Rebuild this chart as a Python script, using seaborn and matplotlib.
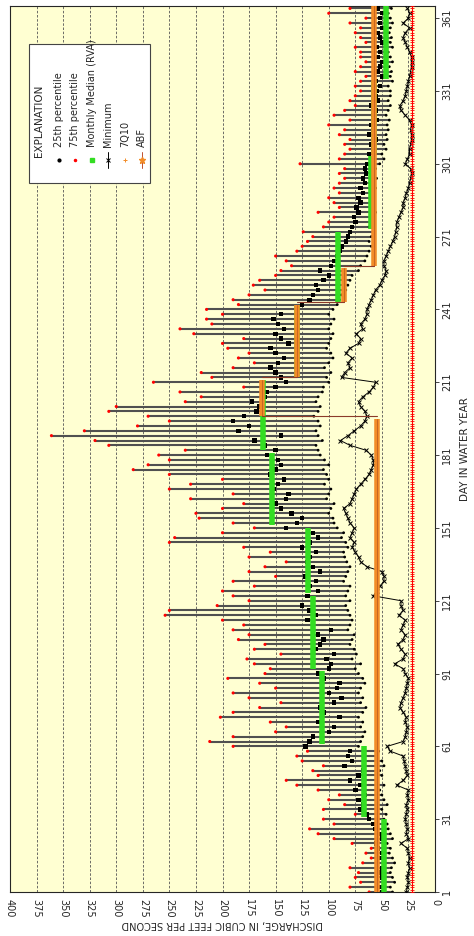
import numpy as np
import pandas as pd
import matplotlib
matplotlib.use("Agg")
import matplotlib.pyplot as plt
import seaborn as sns

sns.set_style("white")
plt.rcParams['font.family'] = ['Liberation Sans Narrow', 'DejaVu Sans']

days = list(range(1, 366, 2))
p75 = [62,80,70,75,72,80,68,60,65,60,78,95,110,118,95,105,75,105,85,100,90,110,130,140,110,115,105,125,130,120,
       190,212,190,150,140,155,202,190,165,145,175,190,150,165,195,160,155,170,177,145,170,160,185,175,190,180,200,254,
       250,205,175,190,200,170,190,150,175,160,140,175,155,180,250,245,200,170,190,222,225,200,180,230,190,250,230,200,250,284,
       270,250,260,235,307,320,361,330,280,250,270,307,300,235,220,240,180,265,210,220,190,170,185,175,195,200,180,227,240,210,
       215,200,215,185,
       190,175,160,171,165,150,145,135,140,150,130,125,120,115,124,105,100,95,110,90,95,100,90,95,90,85,90,85,127,90,
       85,80,85,80,90,85,100,80,95,85,75,80,75,70,75,70,65,75,70,65,70,70,75,65,70,75,70,80,65,100,80]
p25 = [40,42,38,40,42,41,38,40,43,42,45,40,42,44,45,
       48,46,50,45,48,50,52,48,55,50,52,48,50,55,53,
       72,70,68,66,70,68,72,68,65,70,68,72,70,66,68,
       72,75,70,78,74,76,80,78,76,82,80,78,80,82,84,
       80,84,82,80,86,84,82,80,83,85,86,82,84,88,86,
       92,95,96,100,98,95,102,100,98,104,100,102,105,100,104,
       108,110,112,106,110,112,108,110,114,110,108,112,110,106,105,
       100,102,98,104,100,96,98,102,100,98,96,100,98,95,100,
       96,92,90,88,84,82,80,78,72,70,66,64,62,60,62,
       60,58,62,60,58,56,58,60,57,58,56,58,55,57,56,
       52,48,50,46,48,45,46,44,45,43,46,44,42,44,42,
       42,44,40,42,41,43,40,42,44,40,42,41,43,42,40,
       42,44,41]
daily_med = [50,52,48,50,52,50,48,52,50,54,55,50,52,56,58,
             62,64,70,68,72,66,75,70,80,72,68,85,78,82,80,
             122,118,115,100,95,110,90,105,108,95,88,100,92,90,105,
             110,100,98,102,95,112,108,105,110,98,115,120,112,118,125,
             115,120,110,118,112,122,108,115,120,118,112,125,118,110,115,
             140,130,125,135,145,150,140,138,152,148,142,155,150,145,148,
             158,150,160,170,145,185,175,190,180,168,165,172,160,158,150,
             140,145,150,155,148,142,150,155,138,145,150,142,148,152,145,
             130,125,118,115,110,112,105,100,108,98,95,92,90,88,84,
             82,80,78,75,76,72,74,70,72,68,70,66,68,65,66,
             64,60,62,58,60,56,62,58,60,55,58,56,60,54,56,
             55,52,56,50,54,52,50,54,52,55,50,52,54,50,52,
             52,50,54]
minimum = [27,26,25,26,25,24,25,24,25,26,32,25,27,26,27,
           28,27,26,27,25,26,25,36,30,26,27,28,29,30,42,
           45,30,28,27,26,28,27,30,33,32,30,28,27,26,25,
           28,30,38,30,28,32,35,30,28,32,30,28,34,30,32,
           32,58,55,52,48,48,50,64,70,72,75,78,76,80,78,
           76,80,82,84,86,80,78,76,74,70,66,62,60,58,58,
           60,65,80,89,82,76,70,66,64,66,70,72,68,62,58,
           56,88,85,80,82,78,84,80,72,70,74,68,70,66,64,
           64,62,60,58,56,52,50,47,46,48,48,46,44,42,40,
           38,37,36,36,34,32,30,30,28,27,25,24,23,22,23,
           28,26,24,24,23,22,22,23,22,24,28,32,33,30,28,
           27,26,25,24,23,22,22,22,24,26,28,30,28,24,30,
           25,24,26]

month_start = [1,32,62,93,124,152,183,213,244,274,305,336]
month_end = [31,61,92,123,151,182,212,243,273,304,335,366]
month_median = [48,67,106,115,120,153,162,130,91,60,57,46]

abf_start = [1,197,213,244,259]
abf_end = [196,212,243,258,366]
abf_value = [55,163,130,86,57]

q7_10 = 22

df = pd.DataFrame({"day": days, "p25": p25, "p75": p75, "med": daily_med, "min": minimum})

fig = plt.figure(figsize=(4.74, 9.36), dpi=100)
ax = fig.add_axes([10/474, 44/936, 425/474, 886/936])
ax.set_facecolor("#FFFFD2")
ax.set_xlim(400, 0)
ax.set_ylim(1, 366)

for v in range(25, 400, 25):
    ax.axvline(v, color="#555555", ls=(0, (3, 2)), lw=0.6, zorder=1)

ax.hlines(df["day"], df["p25"], df["p75"], color="#505050", lw=1.5, zorder=2)
sns.scatterplot(data=df, x="p75", y="day", color="red", s=5, marker="o", edgecolor="none", ax=ax, zorder=3)
sns.scatterplot(data=df, x="p25", y="day", color="black", s=4, marker="o", edgecolor="none", ax=ax, zorder=3)
sns.scatterplot(data=df, x="med", y="day", color="black", s=10, marker="s", edgecolor="none", ax=ax, zorder=3)

ax.plot(df["min"], df["day"], color="black", lw=0.7, marker="x", markersize=3.5, mew=0.7, zorder=4)

all_days = np.arange(1, 367)
ax.plot(np.full(all_days.size, q7_10), all_days, color="red", lw=0.8, marker="+", markersize=3, mew=0.6, zorder=4)

for s, e, v in zip(month_start, month_end, month_median):
    ax.plot([v, v], [s, e], color="#33DD22", lw=4, solid_capstyle="butt", zorder=5)

for i, (s, e, v) in enumerate(zip(abf_start, abf_end, abf_value)):
    ax.plot([v, v], [s, e], color="#F28C28", lw=4, solid_capstyle="butt", zorder=6)
    ax.plot([v, v], [s, e], color="#C06020", lw=0.6, zorder=6)
    if i > 0:
        ax.plot([abf_value[i-1], v], [s, s], color="#8B3A2A", lw=0.8, zorder=6)

ax.set_xticks(range(0, 401, 25))
ax.set_xticklabels([str(v) for v in range(0, 401, 25)], rotation=270, fontsize=7)
ax.set_yticks(range(1, 362, 30))
ax.yaxis.tick_right()
ax.set_yticklabels([str(v) for v in range(1, 362, 30)], rotation=90, va="center", fontsize=7)
ax.tick_params(axis="both", length=3, width=0.6, pad=2)
ax.set_xlabel("DISCHARGE, IN CUBIC FEET PER SECOND", rotation=180, fontsize=7, labelpad=1)
ax.yaxis.set_label_position("right")
ax.set_ylabel("DAY IN WATER YEAR", rotation=90, fontsize=7.5, labelpad=6)
for sp in ax.spines.values():
    sp.set_linewidth(0.8)

def px(x, y):
    return (x - 10) / 425, (892 - y) / 886
lx0, ly0 = px(29, 183)
lx1, ly1 = px(150, 44)
ax.add_patch(plt.Rectangle((lx0, ly0), lx1 - lx0, ly1 - ly0, transform=ax.transAxes,
                           facecolor="white", edgecolor="#444444", lw=0.8, zorder=10))
tx, ty = px(39, 157)
ax.text(tx, ty, "EXPLANATION", rotation=90, transform=ax.transAxes, fontsize=7.5, ha="center", va="bottom", zorder=11)
labels = ["25th percentile", "75th percentile", "Monthly Median (RVA)", "Minimum", "7Q10", "ABF"]
xs = [59, 75, 92, 108, 125, 142]
for lab, xx in zip(labels, xs):
    mx, my = px(xx, 160)
    x0, y0 = px(xx, 168)
    x1, y1 = px(xx, 152)
    if lab == "25th percentile":
        ax.plot(mx, my, "o", color="black", ms=2, transform=ax.transAxes, zorder=11)
    elif lab == "75th percentile":
        ax.plot(mx, my, "o", color="red", ms=1.5, transform=ax.transAxes, zorder=11)
    elif lab.startswith("Monthly"):
        ax.plot(mx, my, "s", color="#33DD22", ms=3.5, transform=ax.transAxes, zorder=11)
    elif lab == "Minimum":
        ax.plot([x0, x1], [y0, y1], color="black", lw=0.7, transform=ax.transAxes, zorder=11)
        ax.plot(mx, my, "x", color="black", ms=3, mew=0.7, transform=ax.transAxes, zorder=11)
    elif lab == "7Q10":
        ax.plot(mx, my, "+", color="#F28C28", ms=3, mew=0.7, transform=ax.transAxes, zorder=11)
    else:
        ax.plot([x0, x1], [y0, y1], color="#C05030", lw=0.7, transform=ax.transAxes, zorder=11)
        ax.plot(mx, my, "*", color="#F28C28", ms=5, transform=ax.transAxes, zorder=11)
    ttx, tty = px(xx, 147)
    ax.text(ttx, tty, lab, rotation=90, transform=ax.transAxes, fontsize=7, ha="center", va="bottom", zorder=11)

fig.savefig("out.png", dpi=100)
